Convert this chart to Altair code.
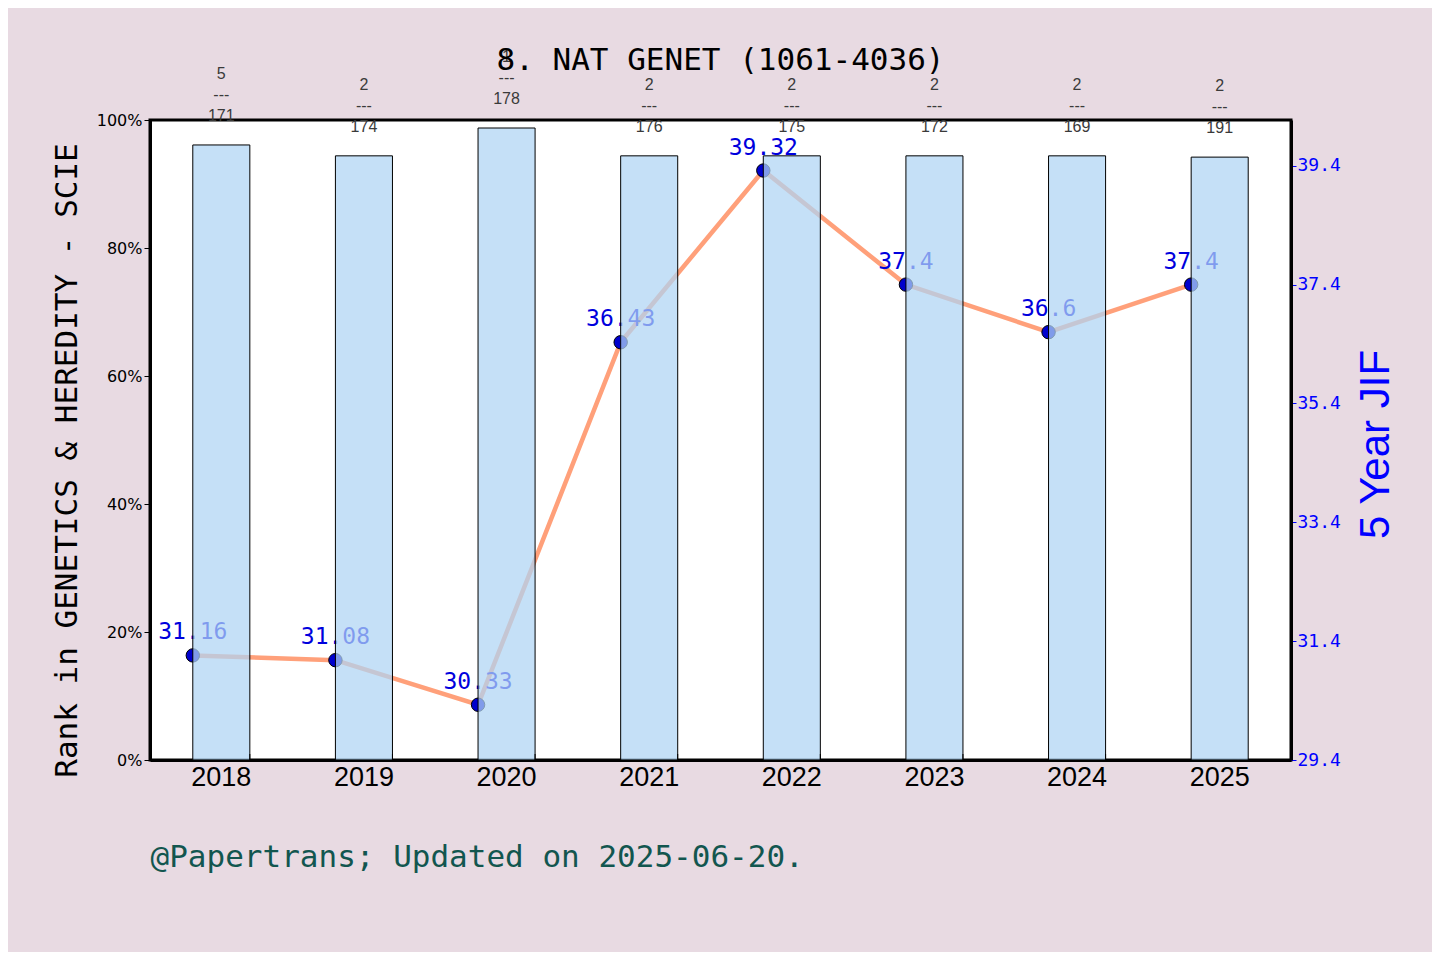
import altair as alt
import pandas as pd

years = ["2018", "2019", "2020", "2021", "2022", "2023", "2024", "2025"]
rank_pct = [0.961, 0.944, 0.9875, 0.944, 0.944, 0.944, 0.944, 0.942]
ranks = [5, 2, 1, 2, 2, 2, 2, 2]
totals = [171, 174, 178, 176, 175, 172, 169, 191]
jif5 = [31.16, 31.08, 30.33, 36.43, 39.32, 37.4, 36.6, 37.4]
jif_ticks = [29.4, 31.4, 33.4, 35.4, 37.4, 39.4]
pct_ticks = [0, 0.2, 0.4, 0.6, 0.8, 1.0]

df = pd.DataFrame({
    "year": years,
    "pct": rank_pct,
    "rank": ranks,
    "total": totals,
    "jif": jif5,
})
df["rank_label"] = [f"{r}\n---\n{t}" for r, t in zip(ranks, totals)]
df["jif_label"] = [str(v) for v in jif5]

base = alt.Chart(df)

xenc = alt.X(
    "year:O",
    scale=alt.Scale(paddingInner=0.6, paddingOuter=0.3),
    axis=alt.Axis(
        labelAngle=0, labelFont="Liberation Sans", labelFontSize=27, labelColor="black",
        labelPadding=4, ticks=False, domain=True, domainColor="black", domainWidth=3,
        title="@Papertrans; Updated on 2025-06-20.", titleFont="DejaVu Sans Mono",
        titleFontSize=31, titleFontWeight="normal", titleColor="#12564F",
        titleAnchor="start", titleAlign="left", titleX=0, titleY=106,
        titleBaseline="alphabetic",
    ),
)

jif_scale = alt.Scale(domain=[29.4, 40.17], nice=False, zero=False)
yj = alt.Y(
    "jif:Q", scale=jif_scale,
    axis=alt.Axis(
        orient="right", values=jif_ticks, format=".1f", grid=False,
        labelColor="blue", labelFont="DejaVu Sans Mono", labelFontSize=18,
        labelFlush=False, labelPadding=1,
        tickColor="blue", tickSize=5, domain=True, domainColor="black", domainWidth=3,
        title="5 Year JIF", titleColor="blue", titleFont="Liberation Sans",
        titleFontSize=42, titleFontWeight="normal", titleAngle=270,
        titleX=84, titleY=324, titleBaseline="middle", titleAlign="center",
    ),
)

line = base.mark_line(color="#FFA07A", strokeWidth=4.5, xOffset=-28.5).encode(x=xenc, y=yj)
points = base.mark_point(
    shape="circle", filled=True, size=180, fill="#0000CD", stroke="black",
    strokeWidth=1, opacity=1, xOffset=-28.5,
).encode(x=xenc, y=yj)
ptext = base.mark_text(
    font="DejaVu Sans Mono", fontSize=23, color="#0000DD", baseline="alphabetic",
    align="center", dy=-16, xOffset=-28.5,
).encode(x=xenc, y=yj, text="jif_label:N")

jif_layer = alt.layer(line, points, ptext)

pct_scale = alt.Scale(domain=[0, 1], nice=False)
yp = alt.Y(
    "pct:Q", scale=pct_scale,
    axis=alt.Axis(
        orient="left", values=pct_ticks, format=".0%", grid=False,
        labelFont="DejaVu Sans", labelFontSize=16, labelColor="black",
        labelFlush=False, labelPadding=2, tickSize=6, tickColor="black",
        domain=True, domainColor="black", domainWidth=3,
        title="Rank in GENETICS & HEREDITY - SCIE", titleFont="DejaVu Sans Mono",
        titleFontSize=31, titleFontWeight="normal", titleColor="black",
        titleAngle=270, titleX=-83, titleY=340, titleBaseline="middle",
        titleAlign="center",
    ),
)

bars = base.mark_bar(
    fill="#AFD4F4", fillOpacity=0.73, stroke="black", strokeWidth=1,
).encode(x=xenc, y=yp)
rtext = base.mark_text(
    font="Liberation Sans", fontSize=16, color="#3A3A3A", baseline="alphabetic",
    align="center", dy=-66, lineBreak="\n", lineHeight=21,
).encode(x=xenc, y=yp, text="rank_label:N")

minor = base.transform_filter(alt.datum.year != "2025").mark_rule(
    color="black", strokeWidth=1
).encode(
    x=alt.X("year:O", bandPosition=1),
    y=alt.value(640), y2=alt.value(634),
)

bar_layer = alt.layer(bars, rtext, minor)

chart = alt.layer(jif_layer, bar_layer).resolve_scale(y="independent").properties(
    width=1141, height=640,
    title=alt.TitleParams(
        "8. NAT GENET (1061-4036)", font="DejaVu Sans Mono", fontSize=31,
        fontWeight="normal", color="black", anchor="middle", offset=0, dy=28,
    ),
    autosize=alt.AutoSizeParams(type="none"),
    padding={"left": 142, "top": 112, "right": 141, "bottom": 192},
).configure(background="#E8DAE2").configure_view(
    fill="white", stroke="black", strokeWidth=3
)

chart.save("out.html", embed_options={"renderer": "svg", "actions": False})
